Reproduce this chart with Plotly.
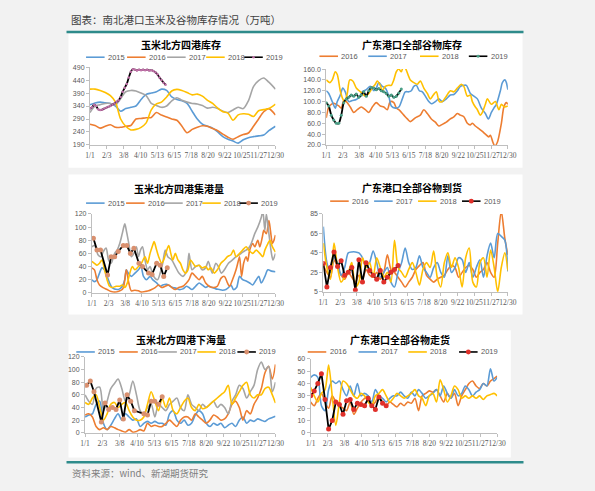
import plotly.graph_objects as go

W, H = 595, 491

def fx(px):
    return px / W

def fy(py):
    return 1 - py / H

# ---------------- shared x axis ----------------
TICK_DAYS = [0, 33, 66, 99, 132, 165, 198, 231, 264, 297, 330, 363]
TICK_TEXT = ["1/1", "2/3", "3/8", "4/10", "5/13", "6/15", "7/18", "8/20", "9/22", "10/25", "11/27", "12/30"]
WEEK = list(range(0, 358, 7)) + [363]
WEEK19 = list(range(0, 148, 7))

# ---------------- Panel 1: 玉米北方四港库存 ----------------
p1_days = [0, 10, 20, 30, 40, 50, 60, 70, 80, 90, 100, 110, 120, 130, 140, 150, 160, 170, 180, 190,
           200, 210, 220, 230, 240, 250, 260, 270, 280, 290, 300, 310, 320, 330, 340, 350, 363]
p1_2015 = [345, 352, 355, 352, 350, 340, 320, 330, 335, 340, 365, 385, 390, 395, 405, 400, 375, 365, 360, 350,
           320, 290, 270, 262, 255, 240, 222, 212, 205, 197, 210, 218, 222, 225, 228, 245, 262]
p1_2016 = [270, 265, 255, 262, 268, 258, 258, 262, 265, 290, 292, 295, 296, 315, 305, 298, 290, 285, 262, 237,
           250, 258, 264, 262, 253, 245, 232, 220, 212, 222, 230, 236, 262, 290, 318, 330, 305]
p1_2017 = [315, 340, 345, 350, 350, 345, 368, 395, 400, 398, 390, 380, 350, 342, 335, 340, 360, 372, 362, 355,
           350, 348, 342, 332, 335, 330, 320, 315, 325, 335, 330, 360, 415, 438, 448, 432, 405]
p1_2018 = [405, 405, 400, 392, 380, 355, 290, 262, 248, 250, 258, 275, 325, 348, 355, 375, 398, 404, 400, 392,
           383, 386, 378, 362, 350, 332, 318, 313, 285, 306, 310, 308, 300, 322, 326, 330, 347]
p1_days19 = list(range(0, 149, 4))
p1_2019 = [330, 335, 345, 340, 328, 325, 326, 330, 333, 337, 340, 345, 350, 356, 362, 375, 395, 410, 425, 450,
           472, 482, 480, 477, 480, 478, 480, 478, 480, 477, 478, 475, 470, 462, 450, 440, 430, 422]

# ---------------- Panel 2: 广东港口全部谷物库存 ----------------
p2_days16 = [0, 5, 10, 15, 25, 30, 35, 40, 48, 55, 62, 70, 78, 85, 92, 100, 108, 115, 122, 128, 135, 140, 145, 155,
             162, 168, 178, 188, 195, 202, 210, 218, 225, 232, 240, 248, 255, 262, 268, 275, 282, 288, 292, 298,
             305, 312, 318, 325, 328, 333, 337, 342, 350, 355, 360, 363]
p2_2016 = [70, 90, 95, 97, 92, 88, 102, 100, 90, 80, 85, 90, 85, 80, 90, 98, 92, 90, 85, 100, 98, 88, 85, 75,
           68, 63, 70, 75, 85, 78, 68, 62, 55, 58, 62, 68, 72, 78, 75, 72, 60, 57, 60, 55,
           50, 45, 40, 35, 38, 25, 18, 25, 60, 90, 98, 95]
p2_days17 = [0, 5, 12, 18, 22, 28, 33, 38, 45, 52, 60, 66, 72, 80, 88, 95, 100, 105, 112, 118, 125, 130, 138, 145,
             152, 158, 165, 170, 175, 180, 186, 192, 198, 205, 210, 218, 225, 232, 240, 248, 255, 262, 268, 275,
             280, 288, 295, 302, 310, 318, 324, 330, 335, 340, 348, 352, 357, 360, 363]
p2_2017 = [120, 115, 100, 88, 100, 112, 125, 118, 100, 102, 104, 108, 118, 122, 128, 120, 125, 135, 128, 125, 110, 92,
           88, 90, 105, 118, 118, 120, 128, 130, 120, 118, 110, 100, 96, 100, 105, 100, 105, 112, 113, 120, 128, 130,
           130, 115, 110, 105, 88, 78, 68, 80, 88, 95, 120, 135, 140, 135, 122]
p2_days18 = [0, 7, 12, 18, 22, 28, 33, 37, 42, 47, 53, 60, 66, 72, 78, 85, 92, 98, 102, 108, 112, 118, 125, 130, 135,
             140, 145, 150, 155, 160, 168, 175, 182, 188, 195, 202, 208, 214, 220, 226, 232, 240, 248, 255, 262, 270,
             275, 282, 288, 292, 298, 302, 308, 312, 318, 322, 330, 338, 345, 350, 356, 363]
p2_2018 = [140, 135, 140, 155, 150, 120, 105, 100, 115, 140, 138, 125, 120, 115, 110, 115, 125, 132, 138, 130, 120,
           128, 130, 130, 140, 155, 160, 155, 168, 158, 140, 135, 132, 138, 125, 115, 105, 112, 118, 100, 100, 110,
           120, 118, 125, 132, 128, 110, 112, 100, 90, 85, 75, 80, 95, 105, 95, 100, 85, 95, 90, 92]
p2_days19 = list(range(0, 151, 5))
p2_2019 = [98, 92, 75, 66, 60, 60, 75, 98, 105, 108, 112, 110, 114, 108, 112, 118, 110, 120, 126, 125, 122, 124,
           120, 118, 115, 110, 112, 108, 110, 116, 123]

# ---------------- Panel 3: 玉米北方四港集港量 ----------------
p3_days15 = [0, 5, 10, 15, 20, 25, 30, 35, 40, 50, 55, 60, 65, 68, 72, 78, 85, 92, 97, 102, 108, 115, 120, 128, 135,
             140, 148, 155, 160, 167, 172, 180, 187, 192, 198, 205, 212, 218, 225, 230, 238, 245, 252, 258, 265, 270,
             275, 280, 286, 292, 298, 305, 312, 318, 325, 330, 335, 342, 348, 355, 363]
p3_2015 = [20, 17, 20, 30, 38, 35, 25, 15, 8, 5, 6, 10, 20, 35, 30, 25, 30, 35, 40, 25, 20, 25, 20, 15, 10,
           12, 13, 10, 8, 7, 5, 6, 10, 8, 5, 10, 15, 12, 8, 10, 8, 6, 5, 4, 5, 8,
           12, 5, 8, 25, 20, 18, 15, 12, 20, 25, 15, 25, 35, 33, 32]
p3_days16 = [0, 5, 10, 15, 22, 30, 38, 45, 52, 60, 63, 68, 73, 78, 85, 92, 98, 105, 112, 118, 125, 132, 138, 145,
             152, 158, 165, 172, 180, 187, 192, 198, 205, 212, 218, 225, 232, 240, 248, 255, 262, 268, 272, 278,
             285, 290, 292, 296, 300, 305, 308, 312, 318, 322, 328, 332, 337, 340, 345, 350, 353, 357, 360, 363]
p3_2016 = [38, 35, 20, 12, 8, 5, 2, 1, 2, 5, 10, 35, 15, 3, 4, 3, 1, 2, 3, 5, 8, 12, 8, 10,
           12, 8, 5, 8, 10, 15, 20, 30, 25, 20, 25, 15, 10, 8, 10, 22, 25, 15, 10, 20,
           35, 50, 55, 25, 45, 55, 48, 65, 75, 70, 80, 70, 85, 95, 90, 110, 95, 75, 80, 88]
p3_days17 = [0, 5, 8, 12, 18, 22, 28, 33, 38, 45, 50, 55, 60, 65, 68, 73, 78, 83, 88, 92, 96, 100, 105, 110, 115,
             120, 125, 130, 135, 140, 145, 150, 158, 165, 172, 180, 188, 192, 198, 205, 212, 218, 225, 230, 238,
             245, 250, 256, 262, 270, 278, 285, 292, 298, 305, 310, 315, 322, 328, 335, 338, 342, 345, 350, 355,
             358, 363]
p3_2017 = [70, 72, 68, 58, 55, 62, 68, 50, 45, 60, 65, 75, 90, 105, 95, 75, 55, 60, 70, 55, 65, 70, 50, 35, 40,
           28, 22, 20, 30, 45, 65, 55, 50, 40, 30, 25, 35, 60, 35, 40, 42, 35, 38, 48, 30,
           45, 40, 30, 35, 45, 50, 55, 58, 62, 65, 68, 75, 90, 100, 115, 125, 95, 120, 90, 60,
           50, 60]
p3_days18 = [0, 5, 10, 15, 20, 25, 30, 35, 40, 48, 55, 60, 65, 70, 75, 80, 85, 92, 98, 105, 110, 115, 120, 123, 128,
             132, 138, 142, 148, 152, 156, 160, 165, 170, 175, 180, 185, 190, 195, 200, 205, 212, 218, 225, 230,
             235, 242, 248, 255, 262, 268, 275, 280, 285, 292, 298, 305, 310, 318, 325, 332, 338, 342, 348, 352,
             357, 363]
p3_2018 = [48, 45, 42, 45, 50, 35, 20, 10, 8, 10, 10, 12, 8, 15, 30, 40, 35, 40, 45, 55, 45, 60, 72, 78, 65,
           55, 45, 50, 65, 72, 60, 50, 60, 50, 45, 35, 30, 35, 50, 45, 40, 42, 38, 40, 35,
           38, 30, 35, 45, 50, 55, 58, 65, 55, 60, 65, 70, 65, 60, 65, 60, 55, 65, 75, 80,
           70, 62]
p3_days19 = [3, 10, 17, 31, 38, 45, 52, 62, 69, 76, 83, 93, 100, 112, 119, 128, 135, 142, 149]
p3_2019 = [83, 65, 65, 27, 55, 55, 63, 72, 72, 60, 68, 45, 40, 30, 28, 45, 42, 25, 38]

# ---------------- Panel 4: 广东港口全部谷物到货 (weekly) ----------------
p4_2016 = [32, 25, 20, 38, 30, 22, 18, 25, 20, 15, 22, 18, 28, 22, 20, 25, 18, 25, 43, 28, 25, 20, 15, 10, 15,
           20, 28, 32, 35, 22, 18, 15, 18, 20, 22, 28, 32, 30, 20, 25, 30, 32, 28, 20, 25, 28, 35, 25, 20, 55,
           88, 60, 43]
p4_2017 = [72, 35, 25, 40, 35, 22, 30, 45, 46, 46, 45, 40, 30, 35, 47, 35, 20, 25, 30, 15, 10, 25, 35, 50, 35,
           28, 30, 42, 30, 25, 20, 30, 35, 25, 20, 42, 25, 30, 40, 38, 25, 35, 20, 30, 38, 20, 42, 55, 40, 65,
           62, 58, 26]
p4_2018 = [55, 30, 18, 55, 30, 15, 20, 25, 35, 10, 15, 40, 30, 35, 20, 40, 30, 20, 25, 15, 58, 30, 25, 20, 28,
           35, 25, 12, 28, 35, 30, 47, 20, 10, 35, 45, 30, 40, 30, 10, 40, 50, 15, 10, 35, 40, 20, 48, 30, 5,
           30, 45, 27]
p4_2019 = [34, 10, 30, 46, 31, 37, 22, 25, 30, 7, 38, 15, 35, 27, 22, 18, 27, 15, 20, 25, 28, 32]

# ---------------- Panel 5: 玉米北方四港下海量 (weekly) ----------------
p5_2015 = [25, 28, 30, 45, 50, 15, 5, 12, 22, 30, 20, 30, 25, 20, 22, 10, 15, 18, 15, 18, 15, 15, 12, 30, 35,
           20, 15, 20, 12, 15, 28, 35, 30, 15, 10, 15, 12, 15, 8, 12, 15, 10, 20, 25, 15, 20, 18, 22, 20, 18,
           22, 24, 26]
p5_2016 = [28, 30, 25, 10, 5, 8, 5, 10, 8, 5, 3, 1, 5, 1, 2, 5, 3, 15, 10, 12, 10, 10, 15, 20, 15,
           10, 20, 25, 25, 20, 30, 25, 20, 15, 20, 28, 25, 20, 22, 30, 45, 50, 40, 20, 35, 30, 45, 55, 70, 95,
           105, 85, 108]
p5_2017 = [60, 50, 45, 70, 72, 35, 50, 70, 78, 85, 70, 50, 60, 82, 60, 35, 30, 40, 45, 25, 45, 40, 35, 45, 50,
           55, 40, 35, 60, 45, 40, 35, 45, 40, 45, 50, 40, 45, 40, 30, 50, 60, 75, 70, 55, 65, 75, 100, 112, 100,
           105, 65, 80]
p5_2018 = [48, 45, 55, 60, 40, 20, 30, 45, 48, 40, 45, 48, 35, 25, 20, 20, 25, 45, 65, 50, 35, 55, 40, 55, 35,
           30, 40, 50, 55, 40, 35, 45, 38, 40, 45, 50, 55, 60, 65, 75, 45, 55, 65, 75, 80, 60, 55, 60, 60, 70,
           72, 60, 47]
p5_days19 = [3, 10, 17, 31, 38, 45, 52, 59, 66, 73, 80, 87, 94, 112, 119, 126, 133, 140, 147]
p5_2019 = [75, 82, 65, 17, 47, 37, 40, 37, 52, 22, 60, 50, 35, 30, 28, 50, 50, 45, 57]

# ---------------- Panel 6: 广东港口全部谷物走货 (weekly) ----------------
p6_2016 = [25, 22, 28, 32, 25, 20, 30, 25, 22, 20, 18, 25, 15, 20, 25, 28, 30, 22, 25, 30, 25, 22, 25, 23, 21,
           24, 22, 25, 24, 28, 18, 30, 32, 34, 33, 35, 30, 25, 32, 28, 32, 22, 30, 35, 40, 42, 38, 36, 40, 38,
           42, 44, 46]
p6_2017 = [45, 47, 45, 22, 18, 35, 42, 40, 42, 35, 30, 38, 30, 40, 30, 32, 30, 25, 35, 30, 28, 25, 28, 30, 30,
           33, 30, 28, 33, 30, 35, 32, 28, 30, 32, 35, 30, 38, 32, 28, 35, 30, 32, 38, 35, 30, 33, 35, 40, 38,
           52, 42, 45]
p6_2018 = [37, 30, 25, 32, 35, 55, 30, 6, 25, 42, 40, 35, 30, 28, 32, 30, 25, 22, 30, 32, 35, 30, 25, 28, 32,
           30, 28, 30, 32, 35, 30, 28, 22, 30, 32, 25, 43, 35, 25, 30, 38, 35, 28, 30, 28, 30, 28, 30, 27, 30,
           31, 32, 30]
p6_2019 = [30, 34, 40, 48, 27, 3, 10, 25, 23, 15, 26, 27, 19, 24, 23, 22, 28, 22, 19, 29, 24, 22]

# ---------------- styling ----------------
C15, C16, C17, C18, C19 = "#5b9bd5", "#ed7d31", "#a5a5a5", "#ffc000", "#000000"
LW = 1.6

panels = [
    dict(n=1, x0=87, x1=277, yt=64, yb=143, yr=[190, 490], yt_vals=list(range(190, 491, 50)), fmt="{:d}",
         title="玉米北方四港库存", tx=180, ty=41, ly=54,
         series=[(p1_days, p1_2015, C15, "2015"), (p1_days, p1_2016, C16, "2016"), (p1_days, p1_2017, C17, "2017"),
                 (p1_days, p1_2018, C18, "2018"), (p1_days19, p1_2019, C19, "2019")],
         mk=("#c070a8", 2.5), leg=[83, 125, 166, 206, 245]),
    dict(n=2, x0=329, x1=515, yt=66, yb=143, yr=[20, 160], yt_vals=list(range(20, 161, 20)), fmt="{:.1f}",
         title="广东港口全部谷物库存", tx=417, ty=41, ly=53,
         series=[(p2_days16, p2_2016, C16, "2016"), (p2_days17, p2_2017, C15, "2017"),
                 (p2_days18, p2_2018, C18, "2018"), (p2_days19, p2_2019, C19, "2019")],
         mk=("#4a9f86", 3), leg=[322, 372, 425, 475]),
    dict(n=3, x0=89, x1=277, yt=213, yb=293, yr=[0, 120], yt_vals=list(range(0, 121, 20)), fmt="{:d}",
         title="玉米北方四港集港量", tx=178, ty=187, ly=202,
         series=[(p3_days15, p3_2015, C15, "2015"), (p3_days16, p3_2016, C16, "2016"), (p3_days17, p3_2017, C17, "2017"),
                 (p3_days18, p3_2018, C18, "2018"), (p3_days19, p3_2019, C19, "2019")],
         mk=("#d9906f", 5), leg=[83, 124, 163, 202, 240]),
    dict(n=4, x0=326, x1=515, yt=213, yb=292, yr=[5, 85], yt_vals=[5, 25, 45, 65, 85], fmt="{:d}",
         title="广东港口全部谷物到货", tx=417, ty=186, ly=200,
         series=[(WEEK, p4_2016, C16, "2016"), (WEEK, p4_2017, C15, "2017"),
                 (WEEK, p4_2018, C18, "2018"), (WEEK19, p4_2019, C19, "2019")],
         mk=("#e0302a", 5), leg=[333, 378, 423, 468]),
    dict(n=5, x0=82, x1=277, yt=358, yb=435, yr=[0, 120], yt_vals=list(range(0, 121, 20)), fmt="{:d}",
         title="玉米北方四港下海量", tx=180, ty=340, ly=353,
         series=[(WEEK, p5_2015, C15, "2015"), (WEEK, p5_2016, C16, "2016"), (WEEK, p5_2017, C17, "2017"),
                 (WEEK, p5_2018, C18, "2018"), (p5_days19, p5_2019, C19, "2019")],
         mk=("#d9906f", 5), leg=[73, 117, 157, 197, 238]),
    dict(n=6, x0=313, x1=504, yt=360, yb=435, yr=[0, 60], yt_vals=list(range(0, 61, 10)), fmt="{:d}",
         title="广东港口全部谷物走货", tx=405, ty=340, ly=353,
         series=[(WEEK, p6_2016, C16, "2016"), (WEEK, p6_2017, C15, "2017"),
                 (WEEK, p6_2018, C18, "2018"), (WEEK19, p6_2019, C19, "2019")],
         mk=("#e0302a", 5), leg=[310, 362, 413, 465]),
]

fig = go.Figure()
shapes = []
annotations = []

# page background panels
for (a, b, c, d) in [(65, 30, 530, 166), (65, 173, 530, 315), (65, 331, 518, 460)]:
    shapes.append(dict(type="rect", xref="paper", yref="paper", x0=fx(a), x1=fx(c), y0=fy(d), y1=fy(b),
                       fillcolor="white", line=dict(width=0), layer="below"))
for yy in [28.5, 465]:
    shapes.append(dict(type="line", xref="paper", yref="paper", x0=fx(63), x1=fx(531), y0=fy(yy), y1=fy(yy),
                       line=dict(color="#2e8b8b", width=2.5)))

annotations.append(dict(text="图表：南北港口玉米及谷物库存情况（万吨）", x=fx(66), y=fy(15.5), xref="paper", yref="paper",
                        xanchor="left", yanchor="middle", showarrow=False,
                        font=dict(size=10.5, color="#404040", family="Noto Sans CJK SC")))
annotations.append(dict(text="资料来源：wind、新湖期货研究", x=fx(67), y=fy(476), xref="paper", yref="paper",
                        xanchor="left", yanchor="middle", showarrow=False,
                        font=dict(size=9.5, color="#7f7f7f", family="Noto Sans CJK SC")))

layout_axes = {}
for p in panels:
    n = p["n"]
    sfx = "" if n == 1 else str(n)
    xa, ya = "x" + sfx, "y" + sfx
    for (dx, vals, col, name) in p["series"]:
        is19 = name == "2019"
        tr = go.Scatter(x=dx, y=vals, xaxis=xa, yaxis=ya, showlegend=False, hoverinfo="skip",
                        mode="lines+markers" if is19 else "lines",
                        line=dict(color=col, width=LW + (0.2 if is19 else 0),
                                  shape="linear" if (is19 and n > 2) else "spline", smoothing=0.8))
        if is19:
            tr.marker = dict(color=p["mk"][0], size=p["mk"][1], line=dict(width=0))
        fig.add_trace(tr)
    layout_axes["xaxis" + sfx] = dict(
        domain=[fx(p["x0"]), fx(p["x1"])], range=[0, 363], anchor=ya,
        tickvals=TICK_DAYS, ticktext=TICK_TEXT, showgrid=False, zeroline=False,
        showline=True, linecolor="#bfbfbf", linewidth=1, ticks="outside", ticklen=3, tickcolor="#bfbfbf",
        tickfont=dict(family="Liberation Serif", size=7.5, color="#595959"), tickangle=0, fixedrange=True)
    layout_axes["yaxis" + sfx] = dict(
        domain=[fy(p["yb"]), fy(p["yt"])], range=p["yr"], anchor=xa,
        tickvals=p["yt_vals"], ticktext=[p["fmt"].format(v) for v in p["yt_vals"]],
        showgrid=False, zeroline=False, showline=True, linecolor="#bfbfbf", linewidth=1,
        ticks="outside", ticklen=3, tickcolor="#bfbfbf",
        tickfont=dict(family="Liberation Sans", size=7, color="#595959"), fixedrange=True)
    annotations.append(dict(text="<b>" + p["title"] + "</b>", x=fx(p["tx"]), y=fy(p["ty"]), xref="paper", yref="paper",
                            xanchor="center", yanchor="middle", showarrow=False,
                            font=dict(size=10, color="#000000", family="Noto Sans CJK SC")))
    # legend drawn manually
    for lx, (dx, vals, col, name) in zip(p["leg"], p["series"]):
        shapes.append(dict(type="line", xref="paper", yref="paper", x0=fx(lx), x1=fx(lx + 19),
                           y0=fy(p["ly"]), y1=fy(p["ly"]), line=dict(color=col, width=LW)))
        if name == "2019":
            r = p["mk"][1] / 2.0
            cx = lx + 9.5
            shapes.append(dict(type="circle", xref="paper", yref="paper", x0=fx(cx - r), x1=fx(cx + r),
                               y0=fy(p["ly"] + r), y1=fy(p["ly"] - r), fillcolor=p["mk"][0],
                               line=dict(width=0)))
        annotations.append(dict(text=name, x=fx(lx + 20.5), y=fy(p["ly"]), xref="paper", yref="paper",
                                xanchor="left", yanchor="middle", showarrow=False,
                                font=dict(size=7.5, color="#595959", family="Liberation Sans")))

fig.update_layout(
    width=W, height=H, margin=dict(l=0, r=0, t=0, b=0),
    paper_bgcolor="#f2f2f2", plot_bgcolor="rgba(0,0,0,0)",
    font=dict(family="Noto Sans CJK SC"),
    shapes=shapes, annotations=annotations, showlegend=False,
    **layout_axes,
)

fig.write_html("out.html", include_plotlyjs=True, config={"displayModeBar": False})
